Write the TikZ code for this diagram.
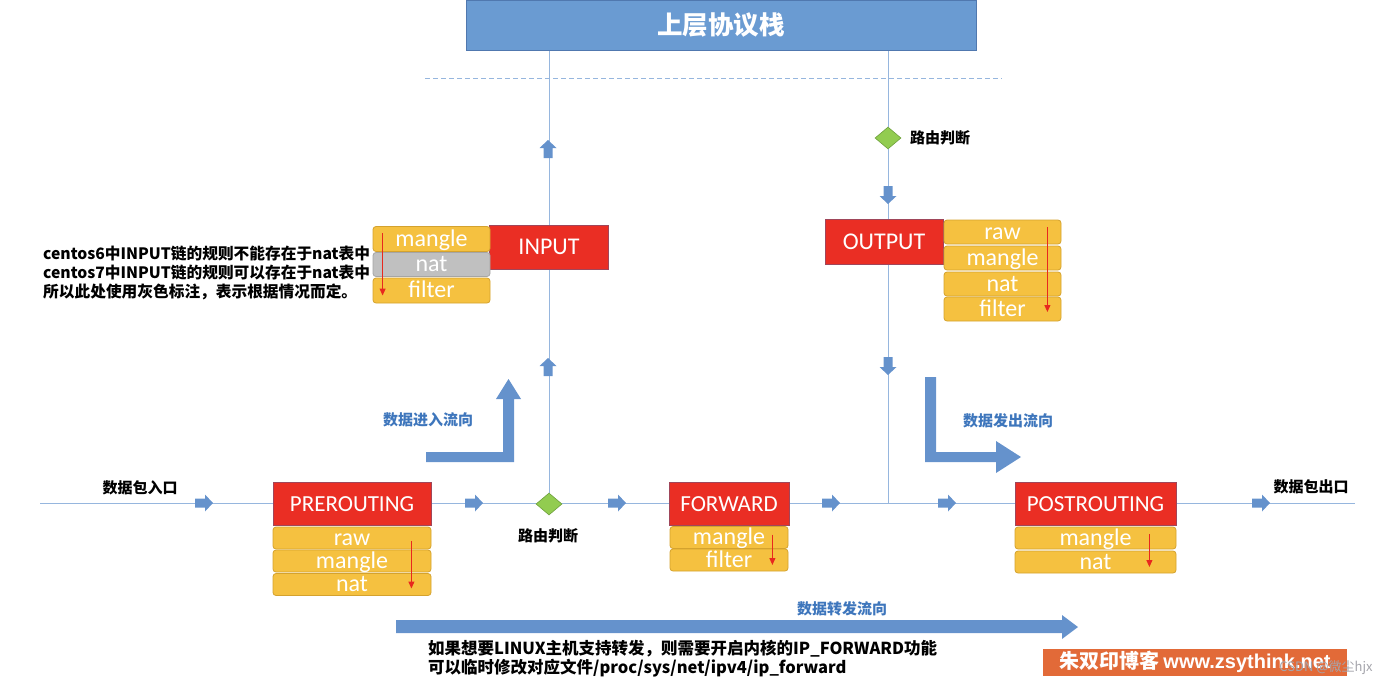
\documentclass[tikz,border=0pt]{standalone}
\usepackage{fontspec}
\setmainfont{Carlito}
\newfontfamily\cjk{Noto Sans CJK SC}
\newfontfamily\wmlat{Liberation Sans}
\usetikzlibrary{shapes.geometric,arrows.meta,backgrounds}
\definecolor{topblue}{RGB}{106,155,210}
\definecolor{topbd}{RGB}{80,120,175}
\definecolor{boxred}{RGB}{234,46,36}
\definecolor{redbd}{RGB}{160,70,90}
\definecolor{boxyel}{RGB}{245,193,64}
\definecolor{yelbd}{RGB}{212,162,46}
\definecolor{natgray}{RGB}{192,192,192}
\definecolor{natbd}{RGB}{165,165,165}
\definecolor{arrblue}{RGB}{101,146,204}
\definecolor{lineblue}{RGB}{150,182,222}
\definecolor{dgreen}{RGB}{146,204,80}
\definecolor{dgreenbd}{RGB}{110,160,60}
\definecolor{txtblue}{RGB}{62,118,188}
\definecolor{wmorange}{RGB}{226,106,56}
\definecolor{redline}{RGB}{232,40,30}
\definecolor{csdngray}{RGB}{165,165,172}
\begin{document}
\begin{tikzpicture}[x=1pt,y=-1pt,
  chainbox/.style={rectangle, fill=boxred, draw=redbd, line width=0.6pt, text=white, inner sep=0pt,
     text height=15pt, text depth=0pt, font=\fontsize{23}{23}\selectfont},
  tbl/.style={rectangle, rounded corners=3pt, fill=boxyel, draw=yelbd, line width=0.8pt, text=white,
     inner sep=0pt, minimum height=22pt, text height=14pt, text depth=0pt, font=\fontsize{24}{24}\selectfont},
  graytbl/.style={tbl, fill=natgray, draw=natbd},
  ln/.style={draw=lineblue, line width=1pt},
  redarr/.style={draw=redline, line width=1pt, -{Triangle[length=7pt,width=6pt]}},
  decide/.style={diamond, fill=dgreen, draw=dgreenbd, line width=0.6pt, minimum width=26pt, minimum height=22pt, inner sep=0pt},
  cjkt/.style={font=\cjk\bfseries\fontsize{15}{18}\selectfont, inner sep=0pt},
  bluet/.style={cjkt, text=txtblue},
  barrow/.pic={\fill[arrblue] (-9,-4.5) -- (1,-4.5) -- (1,-8.5) -- (9,0) -- (1,8.5) -- (1,4.5) -- (-9,4.5) -- cycle;}
]
\useasboundingbox (0,0) rectangle (1389,686);

% upper stack
\node[rectangle, fill=topblue, draw=topbd, line width=0.6pt, minimum width=510pt, minimum height=50pt, inner sep=0pt,
      text=white, font=\cjk\bfseries\fontsize{25.5}{26}\selectfont] (upper) at (721,25) {上层协议栈};

% decisions
\node[decide] (d1) at (549,504) {};
\node[decide] (d2) at (888,138) {};
\node[cjkt, anchor=center] (d1t) at (548,536) {路由判断};
\node[cjkt, anchor=west] (d2t) at (910,138) {路由判断};

% PREROUTING
\node[chainbox, minimum width=158pt, minimum height=43pt] (pre) at (352,504) {PREROUTING};
\node[tbl, minimum width=158pt] (pr1) at (352,538) {raw};
\node[tbl, minimum width=158pt] (pr2) at (352,561) {mangle};
\node[tbl, minimum width=158pt] (pr3) at (352,584.5) {nat};
\draw[redarr] ([xshift=-20pt,yshift=-3pt]pr1.east) -- ([xshift=-20pt,yshift=-4pt]pr3.east);

% FORWARD
\node[chainbox, minimum width=120pt, minimum height=43pt] (fwd) at (729,504) {FORWARD};
\node[tbl, minimum width=118pt] (fw1) at (729,537.5) {mangle};
\node[tbl, minimum width=118pt] (fw2) at (729,560) {filter};
\draw[redarr] ([xshift=-16pt,yshift=3pt]fw1.east) -- ([xshift=-16pt,yshift=-5pt]fw2.east);

% POSTROUTING
\node[chainbox, minimum width=161pt, minimum height=43pt] (post) at (1095.5,504) {POSTROUTING};
\node[tbl, minimum width=161pt] (po1) at (1095.5,538) {mangle};
\node[tbl, minimum width=161pt] (po2) at (1095.5,562) {nat};
\draw[redarr] ([xshift=-27pt,yshift=4pt]po1.east) -- ([xshift=-27pt,yshift=-5pt]po2.east);

% INPUT
\node[chainbox, minimum width=119pt, minimum height=44pt, font=\fontsize{24}{24}\selectfont] (inp) at (549,247) {INPUT};
\node[tbl, minimum width=117pt, minimum height=25pt] (in1) at (431.5,239) {mangle};
\node[graytbl, minimum width=117pt, minimum height=24pt] (in2) at (431.5,264.5) {nat};
\node[tbl, minimum width=117pt, minimum height=25pt] (in3) at (431.5,290.5) {filter};
\draw[redarr] ([xshift=10pt,yshift=6pt]in1.west) -- ([xshift=10pt,yshift=-5pt]in3.west);

% OUTPUT
\node[chainbox, minimum width=118pt, minimum height=45pt, font=\fontsize{24}{24}\selectfont] (outp) at (884,241.5) {OUTPUT};
\node[tbl, minimum width=117pt, minimum height=24pt] (ou1) at (1002.5,232) {raw};
\node[tbl, minimum width=117pt, minimum height=24pt] (ou2) at (1002.5,258) {mangle};
\node[tbl, minimum width=117pt, minimum height=24pt] (ou3) at (1002.5,284) {nat};
\node[tbl, minimum width=117pt, minimum height=24pt] (ou4) at (1002.5,309) {filter};
\draw[redarr] ([xshift=-14pt,yshift=5pt]ou1.east) -- ([xshift=-14pt,yshift=-3pt]ou4.east);

% connector lines (behind)
\coordinate (mainL) at (40,503);
\coordinate (mainR) at (1355,503);
\coordinate (j2) at (888,503);
\coordinate (dashL) at (425,78);
\coordinate (dashR) at (1002,78);
\begin{scope}[on background layer]
  \draw[ln] (mainL) -- (mainR);
  \draw[ln] (upper.south -| d1) -- (d1.north);
  \draw[ln] (upper.south -| j2) -- (d2.north);
  \draw[ln] (d2.south) -- (j2);
  \draw[draw=lineblue, line width=1pt, dash pattern=on 5pt off 3pt] (dashL) -- (dashR);
\end{scope}

% small flow arrows
\pic at (204,503) {barrow};
\pic at (474,503) {barrow};
\pic at (617,503) {barrow};
\pic at (831,503) {barrow};
\pic at (947,503) {barrow};
\pic at (1261,503) {barrow};
\pic[rotate=90] at (548,149) {barrow};
\pic[rotate=90] at (548,367) {barrow};
\pic[rotate=-90] at (888,195) {barrow};
\pic[rotate=-90] at (888,366) {barrow};

% big bent arrows
\fill[arrblue] (426,452) -- (503,452) -- (503,399) -- (496,399) -- (508.5,379) -- (521,399) -- (514,399) -- (514,462) -- (426,462) -- cycle;
\fill[arrblue] (925,377) -- (936,377) -- (936,452) -- (996,452) -- (996,441) -- (1021,457) -- (996,473) -- (996,462) -- (925,462) -- cycle;
\fill[arrblue] (396,620) -- (1062,620) -- (1062,615) -- (1078,627) -- (1062,639) -- (1062,633) -- (396,633) -- cycle;

% labels
\node[bluet] (lin) at (428,420) {数据进入流向};
\node[bluet] (lout) at (1008,421) {数据发出流向};
\node[bluet] (lfwd) at (842,609) {数据转发流向};
\node[cjkt] (entry) at (140,488) {数据包入口};
\node[cjkt] (exit) at (1311,487) {数据包出口};

\node[cjkt, anchor=west, align=left, font=\cjk\bfseries\fontsize{15.7}{19}\selectfont] (note) at (43,273)
  {centos6中INPUT链的规则不能存在于nat表中\\centos7中INPUT链的规则可以存在于nat表中\\所以此处使用灰色标注，表示根据情况而定。};

\node[cjkt, anchor=west, align=left, font=\cjk\bfseries\fontsize{16.5}{19}\selectfont] (fwdnote) at (428,659)
  {如果想要LINUX主机支持转发，则需要开启内核的IP\_FORWARD功能\\可以临时修改对应文件/proc/sys/net/ipv4/ip\_forward};

% watermark
\node[rectangle, fill=wmorange, minimum width=304pt, minimum height=27pt, inner sep=0pt, text=white] (wm) at (1195,662)
  {{\cjk\bfseries\fontsize{20}{20}\selectfont 朱双印博客}\hspace{4pt}{\wmlat\bfseries\fontsize{20}{20}\selectfont www.zsythink.net}};
\node[inner sep=0pt, text=csdngray, font=\cjk\fontsize{13}{13}\selectfont] (csdn) at (1326,668) {CSDN @微尘hjx};
\end{tikzpicture}
\end{document}
